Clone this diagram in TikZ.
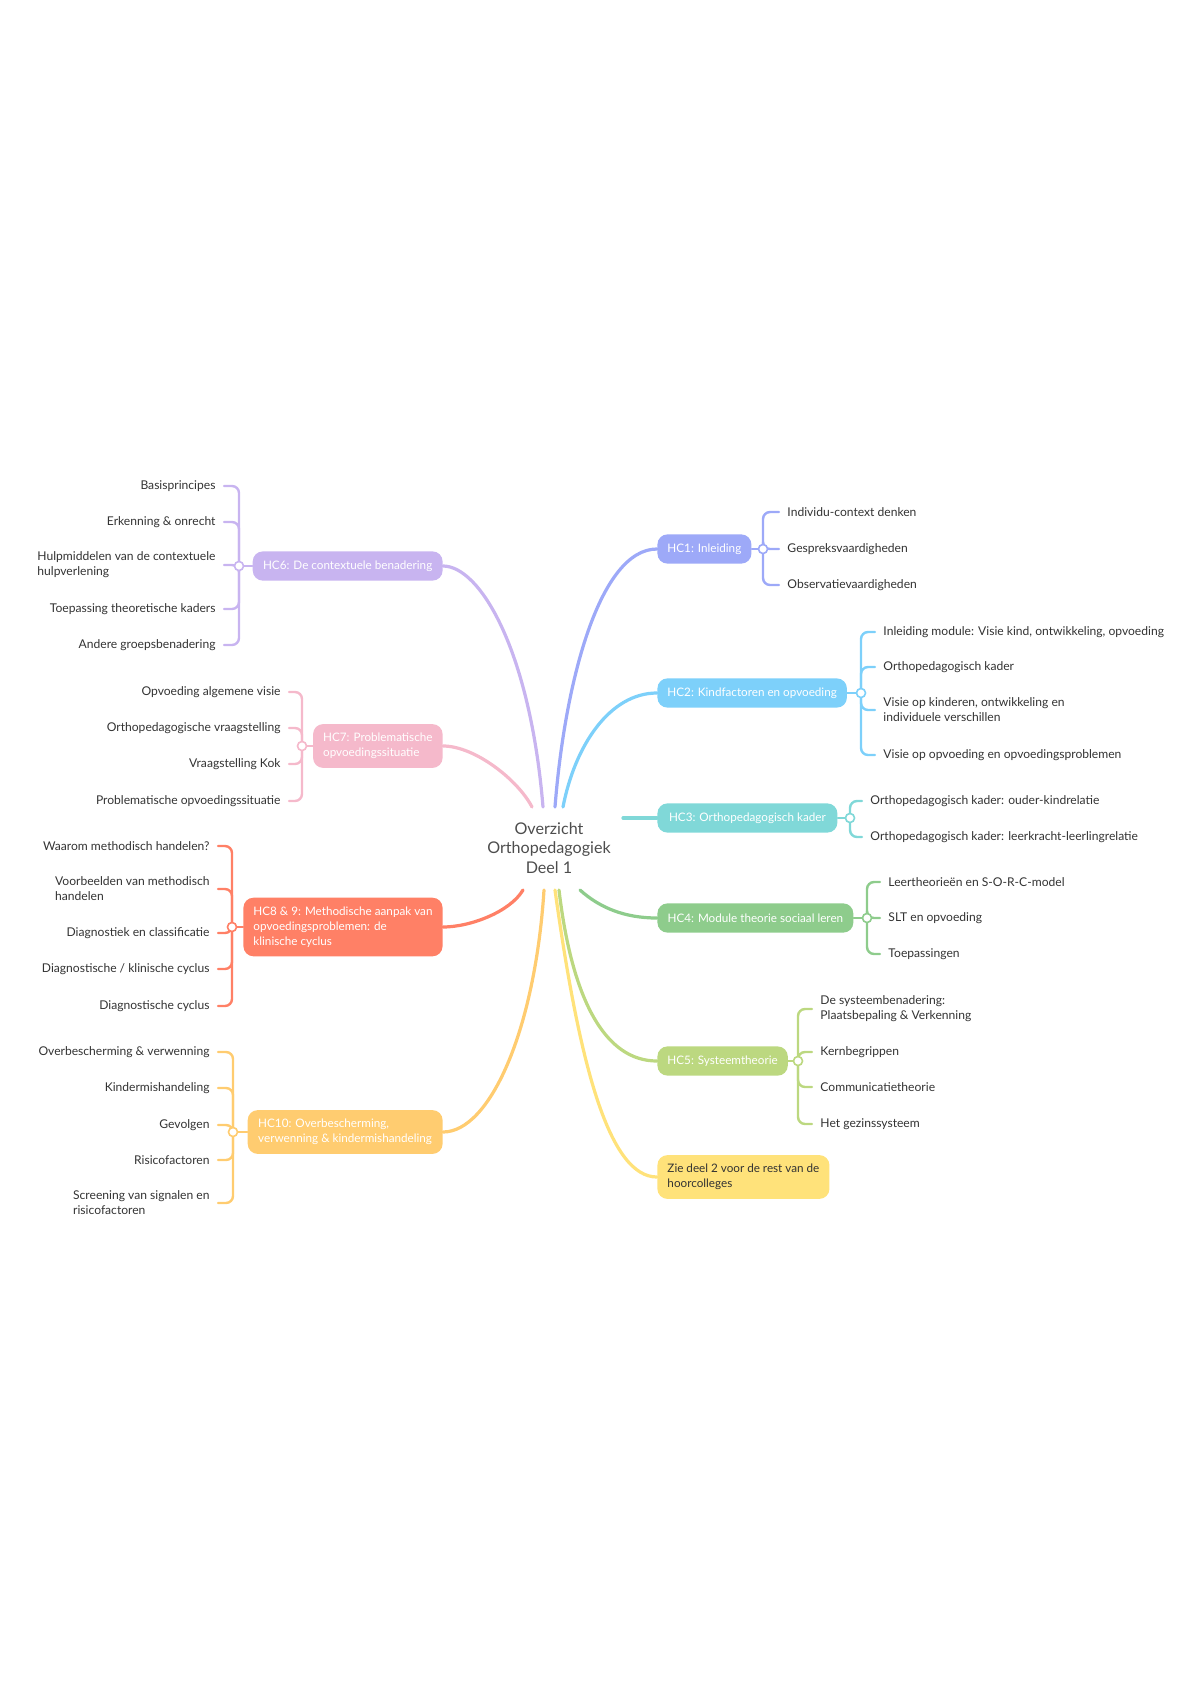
\documentclass[tikz,border=0pt]{standalone}
\usepackage{fontspec}
\setmainfont{Lato}
\usepackage{tikz}
\usetikzlibrary{calc}
\definecolor{hcone}{RGB}{157, 169, 248}
\definecolor{hctwo}{RGB}{125, 208, 250}
\definecolor{hcthree}{RGB}{128, 216, 216}
\definecolor{hcfour}{RGB}{142, 204, 140}
\definecolor{hcfive}{RGB}{188, 216, 128}
\definecolor{hcsix}{RGB}{200, 180, 240}
\definecolor{hcseven}{RGB}{245, 185, 203}
\definecolor{hceight}{RGB}{255, 128, 102}
\definecolor{hcten}{RGB}{255, 204, 112}
\definecolor{hcrest}{RGB}{255, 226, 122}
\definecolor{leaftext}{RGB}{51, 51, 51}
\definecolor{roottext}{RGB}{77, 77, 77}
\newcommand{\pillfont}{\fontsize{5.8}{7.4}\selectfont}
\newcommand{\leaffont}{\fontsize{6}{7.4}\selectfont}
\tikzset{
  pill/.style={fill=#1, rounded corners=5pt, inner xsep=5pt, inner ysep=4.5pt,
               minimum height=14.5pt, text=white, align=left, font=\pillfont},
  leaf/.style={inner xsep=4pt, inner ysep=1pt, align=left, text=leaftext, font=\leaffont},
  stem/.style={line width=1.6pt, line cap=round},
  twig/.style={line width=1.2pt, rounded corners=3.5pt, line cap=round},
  knot/.style={circle, draw=#1, fill=white, line width=0.8pt, inner sep=0pt, minimum size=4.5pt}
}

\begin{document}
\begin{tikzpicture}[x=0.4961pt, y=-0.4961pt]

  \useasboundingbox (0, 0) rectangle (1200, 1698);

  % centre
  \node[align=center, text=roottext, font=\fontsize{8}{9.7}\selectfont] (root) at (549, 848)
    {Overzicht\\Orthopedagogiek\\Deel 1};

  % main branches, right
  \node[pill=hcone, anchor=west, minimum width=44.6pt] (h1) at (657, 549) {HC1: Inleiding};
  \node[pill=hctwo, anchor=west, minimum width=93.3pt] (h2) at (657, 693) {HC2: Kindfactoren en opvoeding};
  \node[pill=hcthree, anchor=west, minimum width=89.3pt] (h3) at (657, 818) {HC3: Orthopedagogisch kader};
  \node[pill=hcfour, anchor=west, minimum width=97.2pt] (h4) at (657, 918) {HC4: Module theorie sociaal leren};
  \node[pill=hcfive, anchor=west, minimum width=61pt] (h5) at (657, 1061) {HC5: Systeemtheorie};
  \node[pill=hcrest, text=leaftext, anchor=west, minimum width=84.3pt] (h0) at (657, 1177)
    {Zie deel 2 voor de rest van de\\hoorcolleges};

  % main branches, left
  \node[pill=hcsix, anchor=east, minimum width=94.2pt] (h6) at (443, 566) {HC6: De contextuele benadering};
  \node[pill=hcseven, anchor=east, minimum width=62.5pt] (h7) at (443, 746)
    {HC7: Problematische\\opvoedingssituatie};
  \node[pill=hceight, anchor=east, minimum width=97.2pt] (h8) at (443, 927)
    {HC8 \& 9: Methodische aanpak van\\opvoedingsproblemen: de\\klinische cyclus};
  \node[pill=hcten, anchor=east, minimum width=96.7pt] (h10) at (443, 1132)
    {HC10: Overbescherming,\\verwenning \& kindermishandeling};

  % stems from the centre
  \coordinate (r1) at (555, 807);
  \coordinate (r2) at (563, 807);
  \coordinate (r3) at (623, 818);
  \coordinate (r4) at (580, 890);
  \coordinate (r5) at (559, 890);
  \coordinate (r0) at (555, 890);
  \coordinate (r6) at (543, 807);
  \coordinate (r7) at (532, 807);
  \coordinate (r8) at (523, 890);
  \coordinate (r10) at (544, 890);

  \draw[stem, hcone] (r1) .. controls (565, 680) and (600, 549) .. (h1.west);
  \draw[stem, hctwo] (r2) .. controls (575, 745) and (610, 693) .. (h2.west);
  \draw[stem, hcthree] (r3) -- (h3.west);
  \draw[stem, hcfour] (r4) .. controls (600, 908) and (625, 918) .. (h4.west);
  \draw[stem, hcfive] (r5) .. controls (572, 1000) and (605, 1061) .. (h5.west);
  \draw[stem, hcrest] (r0) .. controls (580, 1070) and (610, 1177) .. (h0.west);
  \draw[stem, hcsix] (r6) .. controls (530, 650) and (480, 566) .. (h6.east);
  \draw[stem, hcseven] (r7) .. controls (518, 780) and (475, 746) .. (h7.east);
  \draw[stem, hceight] (r8) .. controls (510, 912) and (470, 927) .. (h8.east);
  \draw[stem, hcten] (r10) .. controls (535, 1030) and (490, 1132) .. (h10.east);

  % junctions
  \coordinate (j1) at (763, 549);
  \coordinate (j2) at (861, 693);
  \coordinate (j3) at (850, 818);
  \coordinate (j4) at (867, 918);
  \coordinate (j5) at (798, 1061);
  \coordinate (j6) at (239, 566);
  \coordinate (j7) at (302, 746);
  \coordinate (j8) at (232, 927);
  \coordinate (j10) at (233, 1132);

  % HC1
  \foreach \y/\txt [count=\n] in {512/Individu-context denken, 549/Gespreksvaardigheden,
                                  585/Observatievaardigheden} {
    \node[leaf, anchor=west] (l1-\n) at (779, \y) {\txt};
    \draw[twig, hcone] (j1) |- (l1-\n.west);
  }
  \draw[twig, hcone] (h1.east) -- (j1);
  \node[knot=hcone] at (j1) {};

  % HC2
  \foreach \y/\txt [count=\n] in {632/{Inleiding module: Visie kind, ontwikkeling, opvoeding},
                                  667/Orthopedagogisch kader,
                                  710/{Visie op kinderen, ontwikkeling en\\individuele verschillen},
                                  755/Visie op opvoeding en opvoedingsproblemen} {
    \node[leaf, anchor=west] (l2-\n) at (875, \y) {\txt};
    \draw[twig, hctwo] (j2) |- (l2-\n.west);
  }
  \draw[twig, hctwo] (h2.east) -- (j2);
  \node[knot=hctwo] at (j2) {};

  % HC3
  \foreach \y/\txt [count=\n] in {801/Orthopedagogisch kader: ouder-kindrelatie,
                                  837/Orthopedagogisch kader: leerkracht-leerlingrelatie} {
    \node[leaf, anchor=west] (l3-\n) at (862, \y) {\txt};
    \draw[twig, hcthree] (j3) |- (l3-\n.west);
  }
  \draw[twig, hcthree] (h3.east) -- (j3);
  \node[knot=hcthree] at (j3) {};

  % HC4
  \foreach \y/\txt [count=\n] in {882/Leertheorieën en S-O-R-C-model, 918/SLT en opvoeding,
                                  954/Toepassingen} {
    \node[leaf, anchor=west] (l4-\n) at (880, \y) {\txt};
    \draw[twig, hcfour] (j4) |- (l4-\n.west);
  }
  \draw[twig, hcfour] (h4.east) -- (j4);
  \node[knot=hcfour] at (j4) {};

  % HC5
  \foreach \y/\txt [count=\n] in {1009/{De systeembenadering:\\Plaatsbepaling \& Verkenning},
                                  1052/Kernbegrippen, 1087/Communicatietheorie,
                                  1124/Het gezinssysteem} {
    \node[leaf, anchor=west] (l5-\n) at (812, \y) {\txt};
    \draw[twig, hcfive] (j5) |- (l5-\n.west);
  }
  \draw[twig, hcfive] (h5.east) -- (j5);
  \node[knot=hcfive] at (j5) {};

  % HC6
  \foreach \y/\txt [count=\n] in {486/Basisprincipes, 522/Erkenning \& onrecht,
                                  565/{Hulpmiddelen van de contextuele\\hulpverlening},
                                  609/Toepassing theoretische kaders, 645/Andere groepsbenadering} {
    \node[leaf, anchor=east] (l6-\n) at (224, \y) {\txt};
    \draw[twig, hcsix] (j6) |- (l6-\n.east);
  }
  \draw[twig, hcsix] (h6.west) -- (j6);
  \node[knot=hcsix] at (j6) {};

  % HC7
  \foreach \y/\txt [count=\n] in {692/Opvoeding algemene visie, 728/Orthopedagogische vraagstelling,
                                  764/Vraagstelling Kok, 801/Problematische opvoedingssituatie} {
    \node[leaf, anchor=east] (l7-\n) at (289, \y) {\txt};
    \draw[twig, hcseven] (j7) |- (l7-\n.east);
  }
  \draw[twig, hcseven] (h7.west) -- (j7);
  \node[knot=hcseven] at (j7) {};

  % HC8 & 9
  \foreach \y/\txt [count=\n] in {846/Waarom methodisch handelen?,
                                  889/{Voorbeelden van methodisch\\handelen},
                                  933/Diagnostiek en classificatie,
                                  969/{Diagnostische / klinische cyclus}, 1006/Diagnostische cyclus} {
    \node[leaf, anchor=east] (l8-\n) at (218, \y) {\txt};
    \draw[twig, hceight] (j8) |- (l8-\n.east);
  }
  \draw[twig, hceight] (h8.west) -- (j8);
  \node[knot=hceight] at (j8) {};

  % HC10
  \foreach \y/\txt [count=\n] in {1052/Overbescherming \& verwenning, 1088/Kindermishandeling,
                                  1125/Gevolgen, 1160/Risicofactoren,
                                  1203/{Screening van signalen en\\risicofactoren}} {
    \node[leaf, anchor=east] (l10-\n) at (218, \y) {\txt};
    \draw[twig, hcten] (j10) |- (l10-\n.east);
  }
  \draw[twig, hcten] (h10.west) -- (j10);
  \node[knot=hcten] at (j10) {};

\end{tikzpicture}
\end{document}
